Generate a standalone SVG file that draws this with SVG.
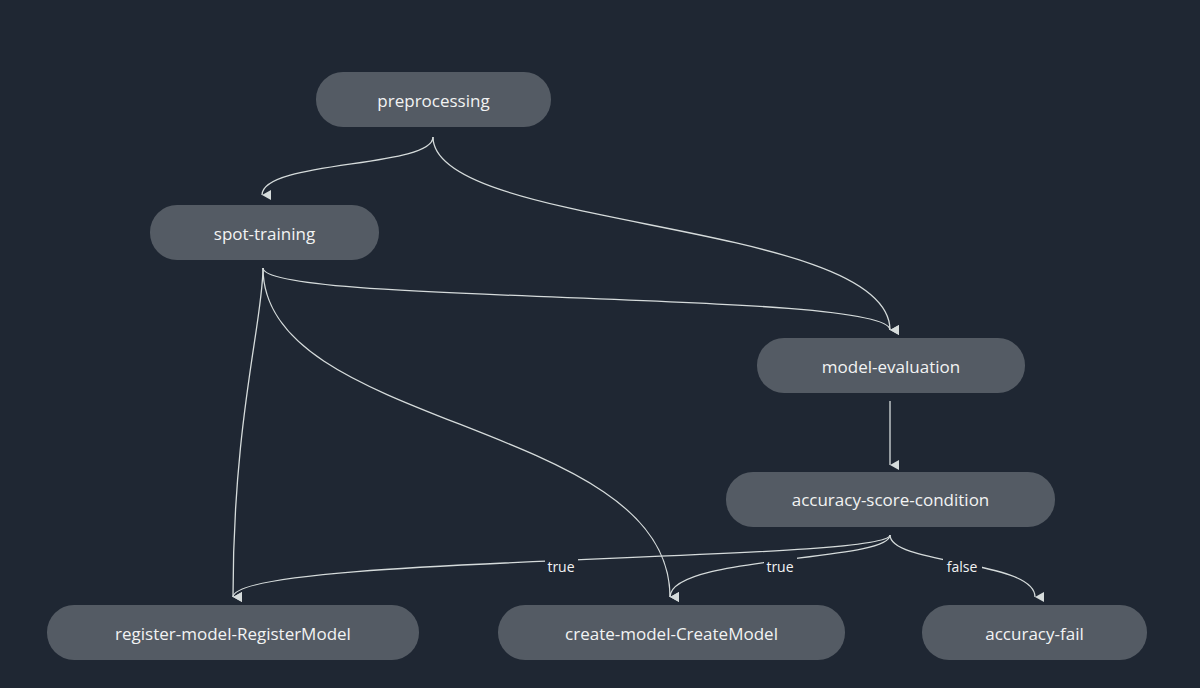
<svg xmlns="http://www.w3.org/2000/svg" width="1200" height="688" viewBox="0 0 1200 688">
<style>
.n rect{fill:#545b64}
.n text{fill:#f2f3f3;font-family:"Open Sans","Noto Sans",sans-serif;font-size:17px;text-anchor:middle;dominant-baseline:central}
.e path{fill:none;stroke:#d5dbdb;stroke-width:1.3;marker-end:url(#a)}
.l rect{fill:#1f2733}
.l text{fill:#f2f3f3;font-family:"Open Sans","Noto Sans",sans-serif;font-size:14px;text-anchor:middle;dominant-baseline:central}
</style>
<defs><marker id="a" viewBox="0 0 10 10" refX="5" refY="9" markerWidth="10" markerHeight="10" markerUnits="userSpaceOnUse" orient="auto-start-reverse"><path d="M0,0 L10,0 L5,9 Z" fill="#d5dbdb" transform="rotate(0)"/></marker></defs>
<rect width="1200" height="688" fill="#1f2733"/>
<g class="e" id="edges">
<path d="M433,137 C433,168 262,160 262,195"/>
<path d="M433,137 C433,230 890,220 890,330"/>
<path d="M263,268 C263,305 890,290 890,330"/>
<path d="M263,268 C263,320 233,420 233,597"/>
<path d="M263,268 C263,430 670,420 670,597"/>
<path d="M890,401 L890,465"/>
<path d="M890,535 C890,562 233,555 233,597"/>
<path d="M890,535 C890,562 670,555 670,597"/>
<path d="M890,535 C890,565 1035,560 1035,597"/>
</g>
<g class="l" id="labels">
<rect x="545" y="557" width="33" height="18"/><text x="561" y="566">true</text>
<rect x="764" y="557" width="33" height="18"/><text x="780" y="566">true</text>
<rect x="943" y="557" width="39" height="18"/><text x="962" y="566">false</text>
</g>
<g class="n" id="preprocessing"><rect x="316" y="72" width="235" height="55" rx="27"/><text x="433.5" y="100">preprocessing</text></g>
<g class="n" id="spot-training"><rect x="150" y="205" width="229" height="55" rx="27"/><text x="264.5" y="233">spot-training</text></g>
<g class="n" id="model-evaluation"><rect x="757" y="338" width="268" height="55" rx="27"/><text x="891" y="366">model-evaluation</text></g>
<g class="n" id="accuracy-score-condition"><rect x="726" y="472" width="329" height="55" rx="27"/><text x="890.5" y="499">accuracy-score-condition</text></g>
<g class="n" id="register-model"><rect x="47" y="605" width="372" height="55" rx="27"/><text x="233" y="633">register-model-RegisterModel</text></g>
<g class="n" id="create-model"><rect x="498" y="605" width="347" height="55" rx="27"/><text x="671.5" y="633">create-model-CreateModel</text></g>
<g class="n" id="accuracy-fail"><rect x="922" y="605" width="225" height="55" rx="27"/><text x="1034.5" y="633">accuracy-fail</text></g>
</svg>
